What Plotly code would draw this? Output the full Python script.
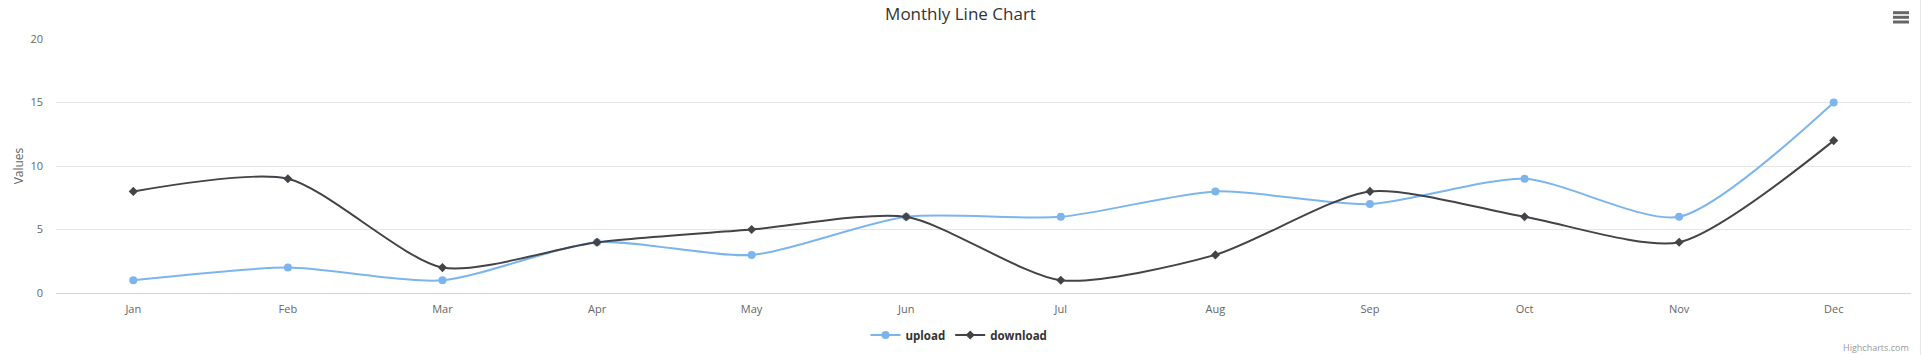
import plotly.graph_objects as go

months = ["Jan", "Feb", "Mar", "Apr", "May", "Jun", "Jul", "Aug", "Sep", "Oct", "Nov", "Dec"]
upload = [1, 2, 1, 4, 3, 6, 6, 8, 7, 9, 6, 15]
download = [8, 9, 2, 4, 5, 6, 1, 3, 8, 6, 4, 12]
y_ticks = [0, 5, 10, 15, 20]

FONT = "Open Sans, DejaVu Sans, sans-serif"

fig = go.Figure()
fig.add_trace(go.Scatter(
    x=months, y=upload, name="upload", mode="lines+markers",
    line=dict(color="#7cb5ec", width=2, shape="spline", smoothing=0.7),
    marker=dict(symbol="circle", size=8, color="#7cb5ec"),
))
fig.add_trace(go.Scatter(
    x=months, y=download, name="download", mode="lines+markers",
    line=dict(color="#434348", width=2, shape="spline", smoothing=0.7),
    marker=dict(symbol="diamond", size=7, color="#434348"),
))

W, H = 1921, 355
ml, mr, mt, mb = 56, 10, 39, 62
ph = H - mt - mb
pw = W - ml - mr
fig.update_layout(
    width=W, height=H,
    margin=dict(l=ml, r=mr, t=mt, b=mb, pad=0, autoexpand=False),
    paper_bgcolor="white", plot_bgcolor="white",
    font=dict(family=FONT, color="#666666", size=11),
    title=dict(text="Monthly Line Chart", x=0.5, xanchor="center", y=1 - 14 / H, yanchor="middle",
               font=dict(size=17, color="#333333", family=FONT)),
    showlegend=True,
    legend=dict(orientation="h", x=(959 - ml) / pw, xanchor="center", y=-(335 - 293) / ph, yanchor="middle",
                font=dict(size=11.5, color="#333333", family=FONT, weight="bold"),
                itemwidth=30, traceorder="normal"),
    xaxis=dict(
        type="category", categoryorder="array", categoryarray=months,
        range=[-0.5, len(months) - 0.5], automargin=False,
        showgrid=False, showline=True, linecolor="#ccd6eb", linewidth=1,
        ticks="", tickfont=dict(size=11, color="#666666"), ticklabelstandoff=6,
        zeroline=False, fixedrange=True,
    ),
    yaxis=dict(
        range=[0, 20], tickvals=y_ticks, showgrid=True, gridcolor="#e6e6e6", gridwidth=1,
        zeroline=False, showline=False, ticks="", automargin=False,
        tickfont=dict(size=11, color="#666666"), ticklabelstandoff=12,
        title=dict(text="Values", font=dict(size=12, color="#666666"), standoff=4),
        fixedrange=True,
    ),
    annotations=[
        dict(text="Highcharts.com", xref="paper", yref="paper", x=(1911 - ml) / pw, xanchor="right",
             y=-(347 - 293) / ph, yanchor="middle", showarrow=False,
             font=dict(size=9, color="#999999", family=FONT)),
    ],
)

# menu (hamburger) icon at top right
for yy in [12.7, 17.3, 22]:
    fig.add_shape(type="line", xref="paper", yref="paper",
                  x0=(1893 - ml) / pw, x1=(1909 - ml) / pw,
                  y0=1 + (mt - yy) / ph, y1=1 + (mt - yy) / ph,
                  line=dict(color="#666666", width=3))

# container right border
fig.add_shape(type="line", xref="paper", yref="paper",
              x0=(1920.5 - ml) / pw, x1=(1920.5 - ml) / pw,
              y0=-mb / ph, y1=1 + mt / ph,
              line=dict(color="#e8e8e8", width=1))

fig.write_html("out.html", config={"displayModeBar": False},
               post_script="document.body.style.margin='0';document.body.style.overflow='hidden';")
